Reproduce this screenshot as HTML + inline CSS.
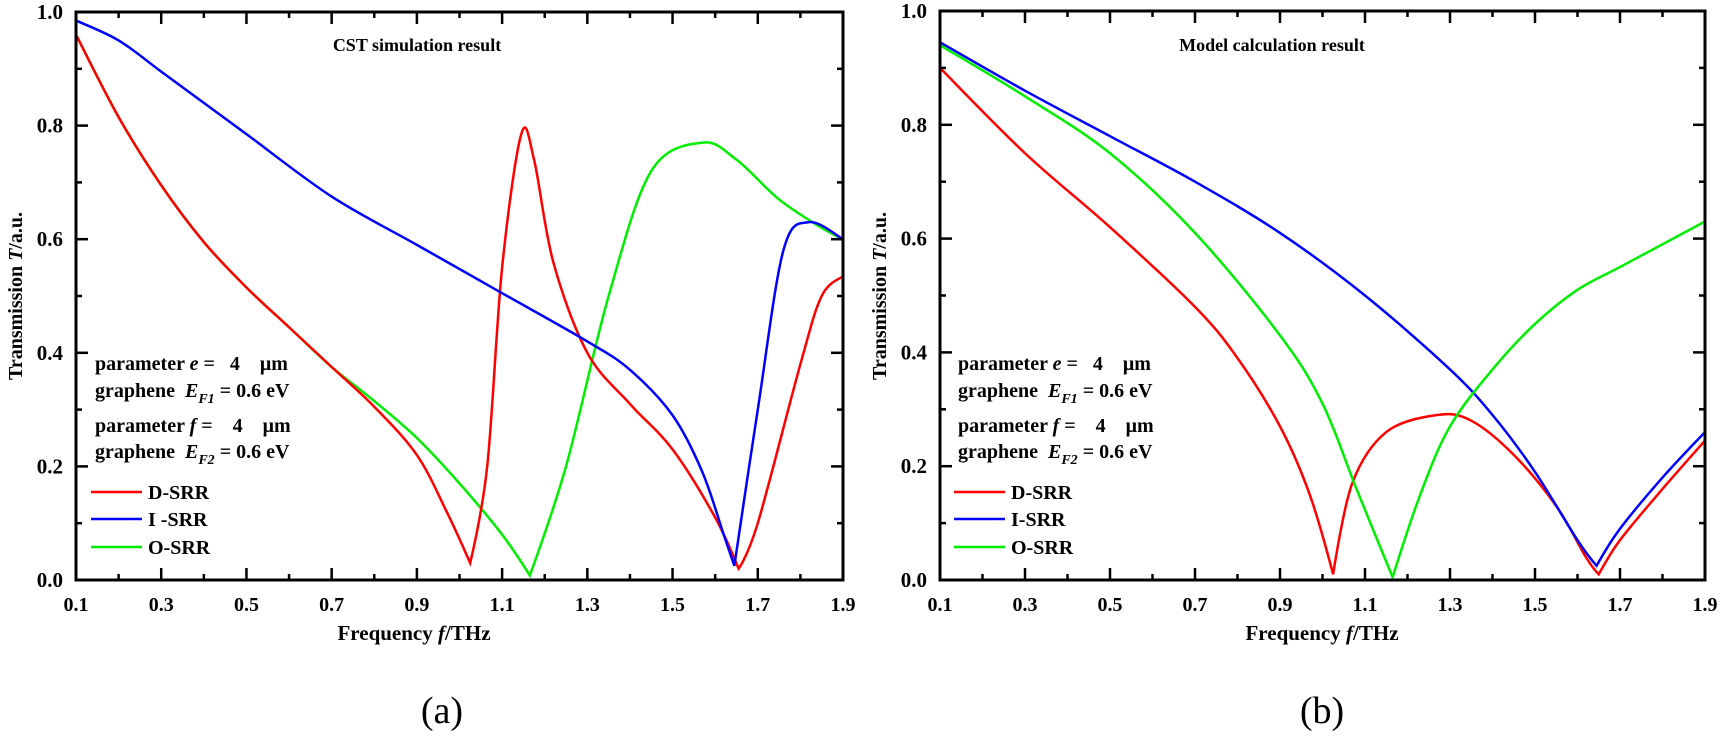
<!DOCTYPE html>
<html><head><meta charset="utf-8"><style>
html,body{margin:0;padding:0;background:#fff;}
svg, svg text, svg tspan{font-family:"Liberation Serif","DejaVu Serif",serif;}
.t text{font-weight:bold;font-size:20px;}
</style></head><body>
<svg id="s" width="1720" height="733" viewBox="0 0 1720 733" xmlns="http://www.w3.org/2000/svg" font-family="Liberation Serif, DejaVu Serif, serif">
<g id="ga"></g>
<g id="gb"></g>
<g class="t">
<text x="417" y="51" text-anchor="middle" style="font-size:18px">CST simulation result</text>
<text x="414" y="640" text-anchor="middle" style="font-size:21px">Frequency <tspan font-style="italic">f</tspan>/THz</text>
<text transform="translate(22,296) rotate(-90)" text-anchor="middle">Transmission <tspan font-style="italic">T</tspan>/a.u.</text>
<text x="95" y="370">parameter <tspan font-style="italic">e</tspan> =&#160;&#160;&#160;4&#160;&#160;&#160;&#160;μm</text>
<text x="95" y="397">graphene&#160;&#160;<tspan font-style="italic">E</tspan><tspan font-style="italic" font-size="14" dy="6">F1</tspan><tspan dy="-6"> = 0.6 eV</tspan></text>
<text x="95" y="432">parameter <tspan font-style="italic">f</tspan> =&#160;&#160;&#160;&#160;4&#160;&#160;&#160;&#160;μm</text>
<text x="95" y="458">graphene&#160;&#160;<tspan font-style="italic">E</tspan><tspan font-style="italic" font-size="14" dy="6">F2</tspan><tspan dy="-6"> = 0.6 eV</tspan></text>
<text x="148" y="499">D-SRR</text>
<text x="148" y="526">I -SRR</text>
<text x="148" y="554">O-SRR</text>
</g>
<line x1="91" y1="492" x2="142" y2="492" stroke="#f00" stroke-width="2.5"/>
<line x1="91" y1="519" x2="142" y2="519" stroke="#00f" stroke-width="2.5"/>
<line x1="91" y1="547" x2="142" y2="547" stroke="#0e0" stroke-width="2.5"/>
<g class="t">
<text x="1272" y="51" text-anchor="middle" style="font-size:18px">Model calculation result</text>
<text x="1322" y="640" text-anchor="middle" style="font-size:21px">Frequency <tspan font-style="italic">f</tspan>/THz</text>
<text transform="translate(886,296) rotate(-90)" text-anchor="middle">Transmission <tspan font-style="italic">T</tspan>/a.u.</text>
<text x="958" y="370">parameter <tspan font-style="italic">e</tspan> =&#160;&#160;&#160;4&#160;&#160;&#160;&#160;μm</text>
<text x="958" y="397">graphene&#160;&#160;<tspan font-style="italic">E</tspan><tspan font-style="italic" font-size="14" dy="6">F1</tspan><tspan dy="-6"> = 0.6 eV</tspan></text>
<text x="958" y="432">parameter <tspan font-style="italic">f</tspan> =&#160;&#160;&#160;&#160;4&#160;&#160;&#160;&#160;μm</text>
<text x="958" y="458">graphene&#160;&#160;<tspan font-style="italic">E</tspan><tspan font-style="italic" font-size="14" dy="6">F2</tspan><tspan dy="-6"> = 0.6 eV</tspan></text>
<text x="1011" y="499">D-SRR</text>
<text x="1011" y="526">I-SRR</text>
<text x="1011" y="554">O-SRR</text>
</g>
<line x1="954" y1="492" x2="1005" y2="492" stroke="#f00" stroke-width="2.5"/>
<line x1="954" y1="519" x2="1005" y2="519" stroke="#00f" stroke-width="2.5"/>
<line x1="954" y1="547" x2="1005" y2="547" stroke="#0e0" stroke-width="2.5"/>
<text x="442" y="723" text-anchor="middle" font-size="38">(a)</text>
<text x="1322" y="723" text-anchor="middle" font-size="38">(b)</text>
</svg>
<script>
var NS="http://www.w3.org/2000/svg";
function el(p,n,a){var e=document.createElementNS(NS,n);for(var k in a)e.setAttribute(k,a[k]);p.appendChild(e);return e;}
function panel(g,x0,x1,y0,y1,series){
  var X=function(f){return x0+(f-0.1)/1.8*(x1-x0);},Y=function(v){return y1-v*(y1-y0);};
  series.forEach(function(s){
    var P=s.d.map(function(p){return [X(p[0]),Y(p[1])];});
    var d="M"+P[0][0]+","+P[0][1];
    for(var i=0;i<P.length-1;i++){
      var p0=P[Math.max(i-1,0)],p1=P[i],p2=P[i+1],p3=P[Math.min(i+2,P.length-1)];
      var sh=s.sharp&&(s.sharp.indexOf(i)>=0),sh2=s.sharp&&(s.sharp.indexOf(i+1)>=0);
      var c1=sh?p1:[p1[0]+(p2[0]-p0[0])/6,p1[1]+(p2[1]-p0[1])/6];
      var c2=sh2?p2:[p2[0]-(p3[0]-p1[0])/6,p2[1]-(p3[1]-p1[1])/6];
      d+="C"+c1[0]+","+c1[1]+" "+c2[0]+","+c2[1]+" "+p2[0]+","+p2[1];
    }
    el(g,"path",{d:d,fill:"none",stroke:s.c,"stroke-width":2.5});
  });
  el(g,"rect",{x:x0,y:y0,width:x1-x0,height:y1-y0,fill:"none",stroke:"#000","stroke-width":3});
  for(var i=0;i<=18;i++){var f=0.1+i*0.1,x=X(f),L=(i%2==0)?12:6;
    el(g,"line",{x1:x,y1:y1,x2:x,y2:y1-L,stroke:"#000","stroke-width":2.5});
    el(g,"line",{x1:x,y1:y0,x2:x,y2:y0+L,stroke:"#000","stroke-width":2.5});
    if(i%2==0){var t=el(g,"text",{x:x,y:611,"text-anchor":"middle","font-weight":"bold","font-size":"20"});t.textContent=f.toFixed(1);}
  }
  for(var j=0;j<=10;j++){var v=j*0.1,y=Y(v),L=(j%2==0)?12:6;
    el(g,"line",{x1:x0,y1:y,x2:x0+L,y2:y,stroke:"#000","stroke-width":2.5});
    el(g,"line",{x1:x1,y1:y,x2:x1-L,y2:y,stroke:"#000","stroke-width":2.5});
    if(j%2==0){var t=el(g,"text",{x:x0-13,y:y+7,"text-anchor":"end","font-weight":"bold","font-size":"21"});t.textContent=v.toFixed(1);}
  }
}
panel(document.getElementById("ga"),76,843,12,580,[
 {c:"#0e0",d:[[0.1,0.96],[0.2,0.815],[0.3,0.695],[0.4,0.595],[0.5,0.515],[0.6,0.445],[0.7,0.375],[0.8,0.315],[0.9,0.25],[1.0,0.17],[1.1,0.08],[1.165,0.008],[1.25,0.2],[1.35,0.5],[1.45,0.72],[1.57,0.77],[1.65,0.74],[1.75,0.67],[1.85,0.62],[1.9,0.6]],sharp:[11]},
 {c:"#f00",d:[[0.1,0.96],[0.2,0.815],[0.3,0.695],[0.4,0.595],[0.5,0.515],[0.6,0.445],[0.7,0.375],[0.8,0.305],[0.9,0.22],[0.97,0.12],[1.025,0.03],[1.065,0.2],[1.1,0.55],[1.145,0.785],[1.175,0.74],[1.22,0.56],[1.3,0.40],[1.4,0.31],[1.5,0.23],[1.6,0.11],[1.655,0.02],[1.7,0.1],[1.8,0.38],[1.85,0.50],[1.9,0.535]],sharp:[10,20]},
 {c:"#00f",d:[[0.1,0.985],[0.2,0.95],[0.3,0.895],[0.4,0.84],[0.5,0.785],[0.7,0.675],[0.9,0.59],[1.1,0.505],[1.3,0.42],[1.4,0.37],[1.5,0.29],[1.57,0.19],[1.62,0.08],[1.645,0.025],[1.7,0.3],[1.76,0.58],[1.82,0.63],[1.9,0.6]],sharp:[13]}
]);
panel(document.getElementById("gb"),940,1705,11,580,[
 {c:"#f00",d:[[0.1,0.9],[0.3,0.75],[0.5,0.62],[0.7,0.48],[0.8,0.39],[0.9,0.27],[0.97,0.15],[1.025,0.01],[1.07,0.17],[1.15,0.26],[1.27,0.29],[1.35,0.28],[1.45,0.22],[1.55,0.13],[1.62,0.04],[1.65,0.01],[1.7,0.07],[1.8,0.16],[1.9,0.245]],sharp:[7,15]},
 {c:"#00f",d:[[0.1,0.945],[0.3,0.86],[0.5,0.78],[0.7,0.70],[0.9,0.61],[1.1,0.50],[1.3,0.37],[1.4,0.29],[1.5,0.19],[1.6,0.07],[1.645,0.025],[1.7,0.09],[1.8,0.18],[1.9,0.26]],sharp:[10]},
 {c:"#0e0",d:[[0.1,0.94],[0.3,0.85],[0.5,0.75],[0.7,0.61],[0.9,0.43],[1.0,0.31],[1.08,0.16],[1.165,0.005],[1.23,0.15],[1.3,0.27],[1.4,0.37],[1.5,0.45],[1.6,0.51],[1.7,0.55],[1.8,0.59],[1.9,0.63]],sharp:[7]}
]);
</script>
</body></html>
